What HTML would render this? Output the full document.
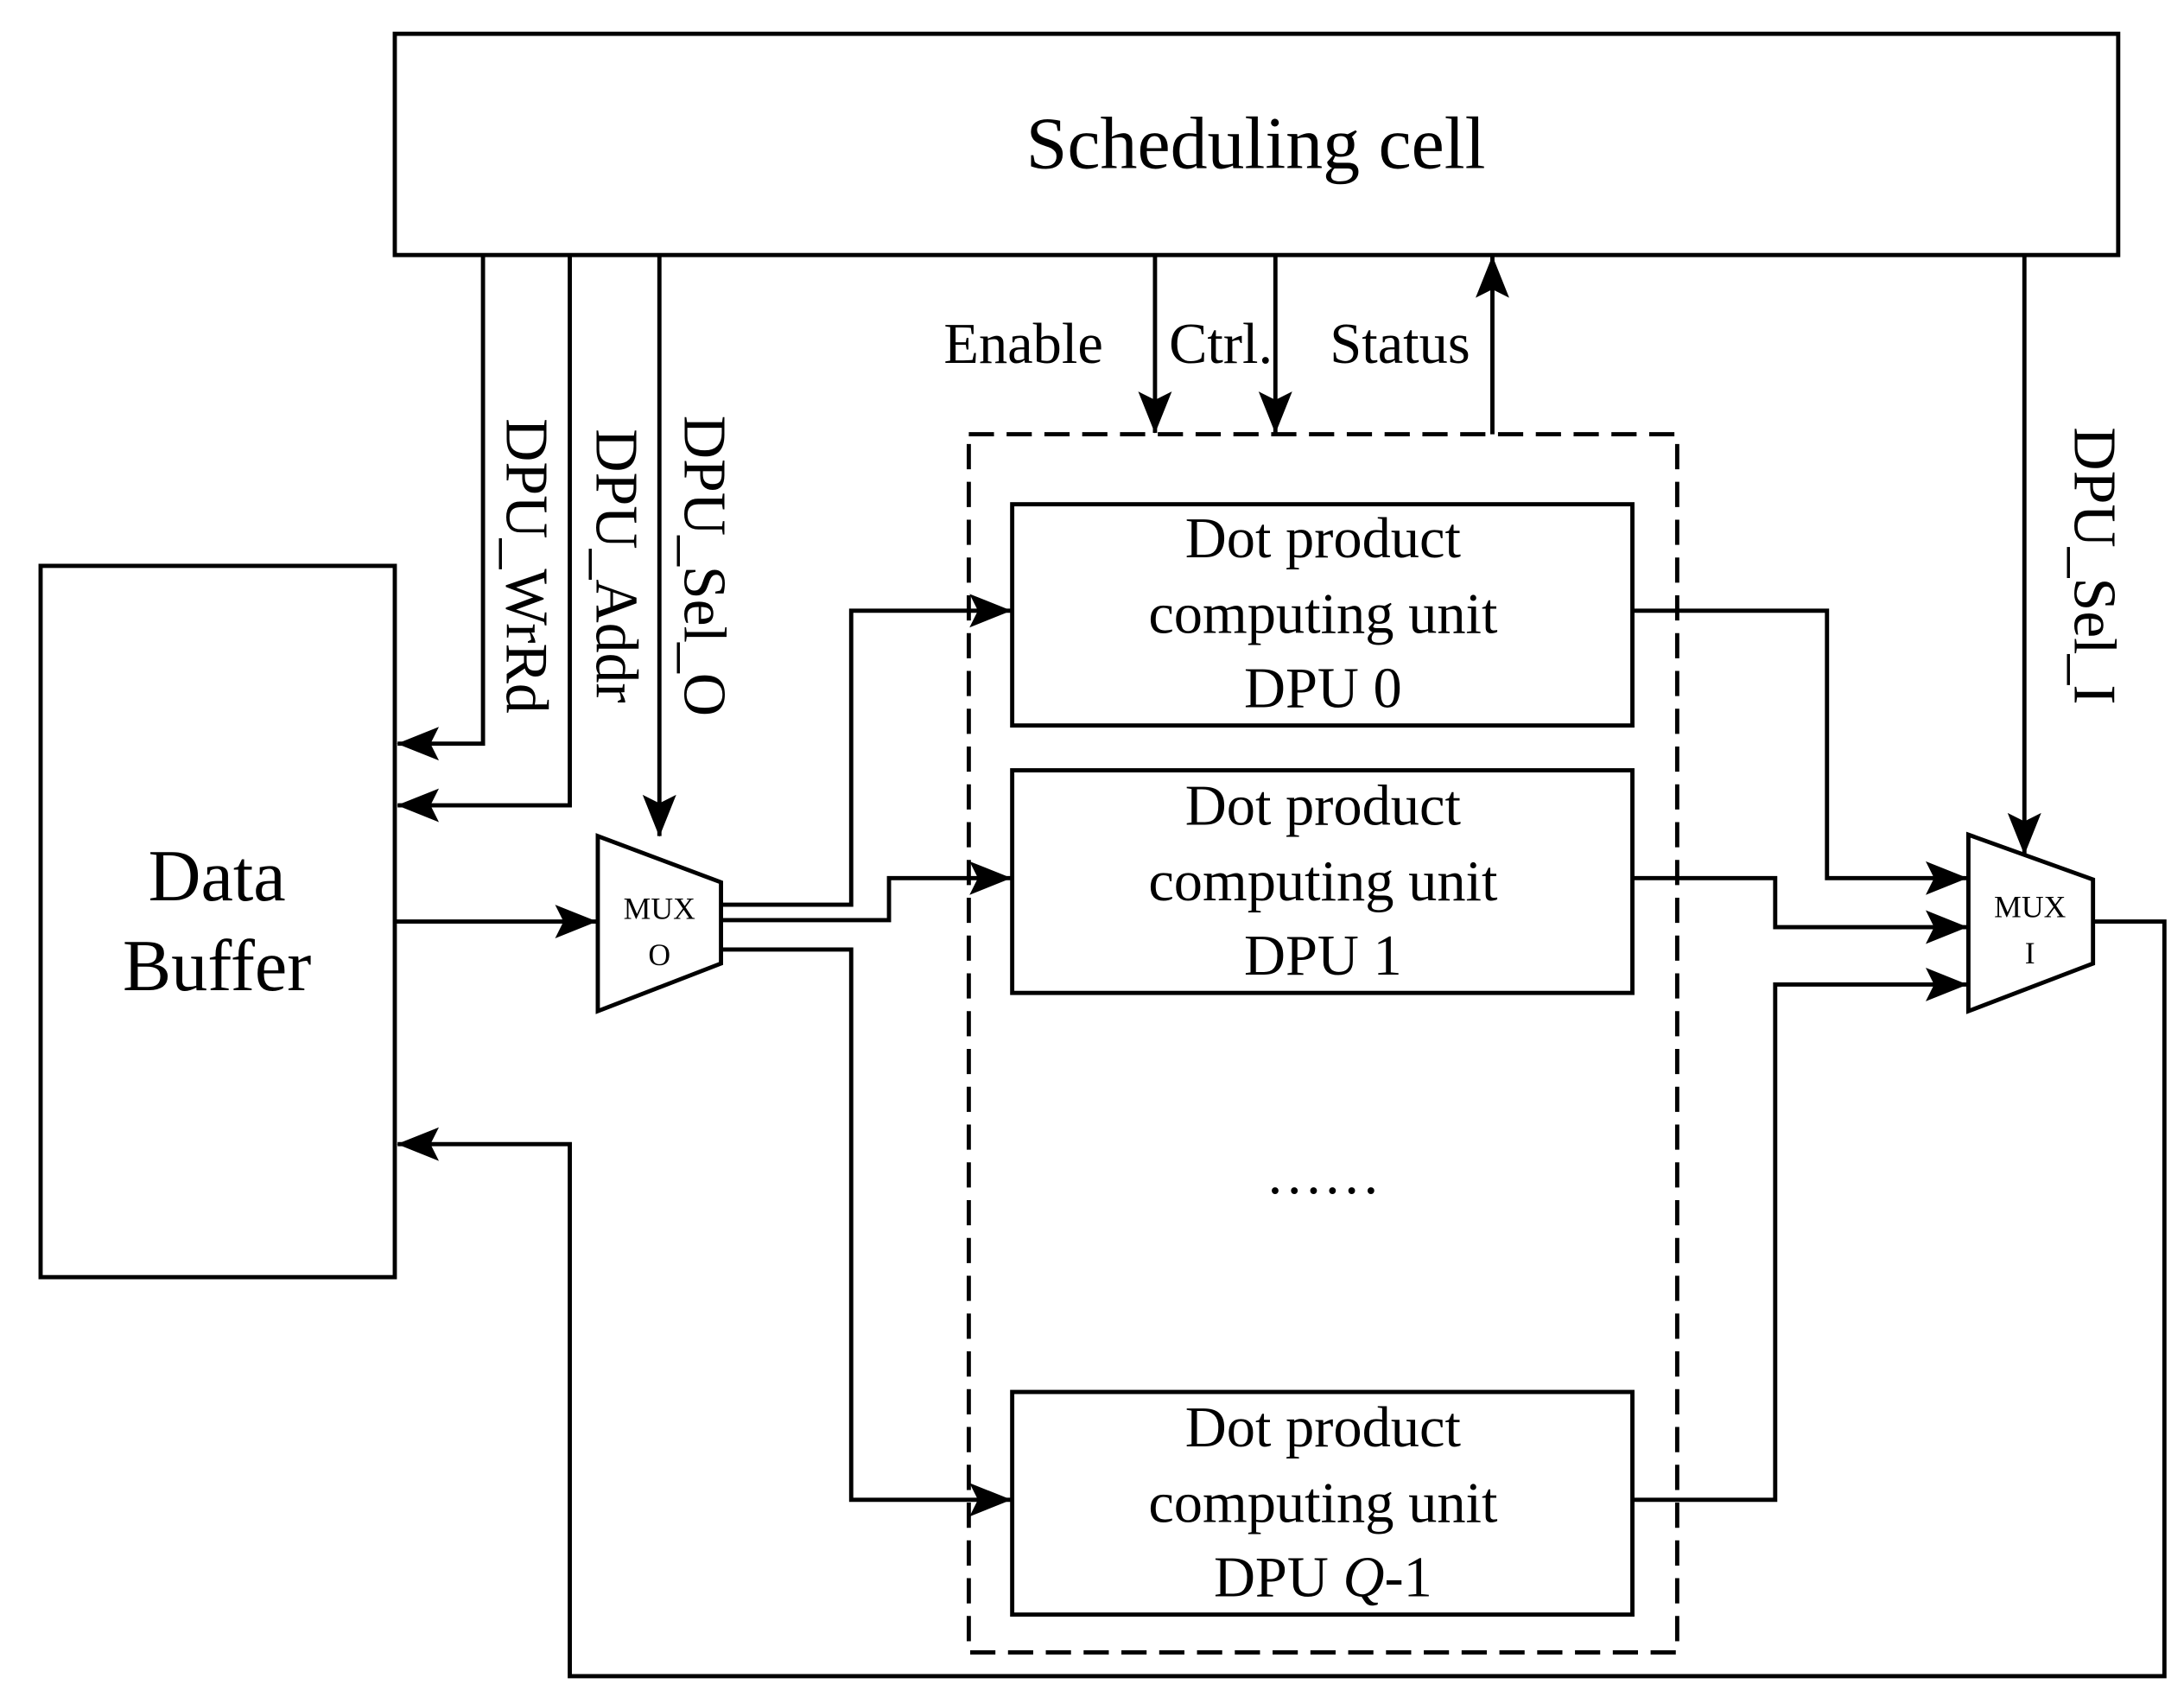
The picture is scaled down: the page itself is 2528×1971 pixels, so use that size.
<!DOCTYPE html>
<html><head><style>html,body{margin:0;padding:0;background:#fff}svg{display:block}</style></head><body>
<svg width="2528" height="1971" viewBox="0 0 1560 1216" xmlns="http://www.w3.org/2000/svg" font-family="Liberation Serif, serif">
<defs><marker id="a" markerWidth="10" markerHeight="8" refX="9.5" refY="4" orient="auto" markerUnits="userSpaceOnUse" viewBox="0 0 10 8" style="overflow:visible"><path d="M-20,-8 L10,4 L-20,16 L-14,4 Z" fill="#000"/></marker></defs>
<g fill="none" stroke="#000" stroke-width="3">
<rect x="282" y="24" width="1231" height="158"/>
<rect x="29" y="404" width="253" height="508"/>
<rect x="692" y="310" width="506" height="870" stroke-dasharray="18,9"/>
<rect x="723" y="360" width="443" height="158"/>
<rect x="723" y="550" width="443" height="159"/>
<rect x="723" y="994" width="443" height="159"/>
<path d="M427,597 L515,630 L515,688 L427,722 Z"/>
<path d="M1406,596 L1495,628 L1495,688 L1406,722 Z"/>
</g>
<g fill="none" stroke="#000" stroke-width="3" marker-end="url(#a)">
<path d="M345,182 V531 H284"/>
<path d="M407,182 V575 H284"/>
<path d="M471,182 V597"/>
<path d="M1446,182 V610"/>
<path d="M825,182 V309"/>
<path d="M911,182 V309"/>
<path d="M1066,310 V183"/>
<path d="M282,658 H426"/>
<path d="M515,646 H608 V436 H722"/>
<path d="M515,657 H635 V627 H722"/>
<path d="M515,678 H608 V1071 H722"/>
<path d="M1166,436 H1305 V627 H1405"/>
<path d="M1166,627 H1268 V662 H1405"/>
<path d="M1166,1071 H1268 V703 H1405"/>
<path d="M1495,658 H1546 V1197 H407 V817 H284"/>
</g>
<g fill="#000" text-anchor="middle">
<text x="897" y="120" font-size="53">Scheduling cell</text>
<text x="155" y="643" font-size="52">Data</text>
<text x="155" y="707" font-size="52">Buffer</text>
<g font-size="41">
<text x="945" y="398">Dot product</text><text x="945" y="452">computing unit</text><text x="945" y="505">DPU 0</text>
<text x="945" y="589">Dot product</text><text x="945" y="643">computing unit</text><text x="945" y="696">DPU 1</text>
<text x="945" y="1033">Dot product</text><text x="945" y="1087">computing unit</text><text x="945" y="1140">DPU <tspan font-style="italic">Q</tspan>-1</text>
<text x="731" y="259">Enable</text><text x="872" y="259">Ctrl.</text><text x="1000" y="259">Status</text>
<text x="945" y="852">……</text>
</g>
<g font-size="43">
<text transform="translate(362,404) rotate(90)">DPU_WrRd</text>
<text transform="translate(426,404) rotate(90)">DPU_Addr</text>
<text transform="translate(489,404) rotate(90)">DPU_Sel_O</text>
<text transform="translate(1482,404) rotate(90)">DPU_Sel_I</text>
</g>
<g font-size="22"><text x="471" y="656">MUX</text><text x="471" y="689">O</text><text x="1450" y="655">MUX</text><text x="1450" y="688">I</text></g>
</g>
</svg>
</body></html>
